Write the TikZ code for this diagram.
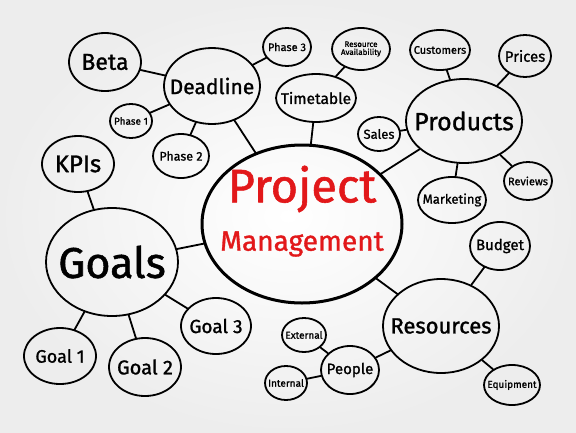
\documentclass[tikz,border=0pt]{standalone}
\usepackage{fontspec}
\setmainfont{Fira Sans}[FakeBold=1.2]
\usetikzlibrary{shapes.geometric}

\definecolor{pmred}{RGB}{226,24,26}
\newcommand{\fsz}[1]{\fontsize{#1}{#1}\selectfont}

\begin{document}
\begin{tikzpicture}[
  x=1pt, y=-1pt,
  line cap=round,
  line join=round,
  bubble/.style={ellipse, draw, line width=1.8pt, inner sep=0pt},
  link/.style={line width=1.8pt}
]

% background: light grey, white towards the middle
\shade [inner color=white, outer color=gray!14] (0,0) rectangle (576,432);
\useasboundingbox (0,0) rectangle (576,432);

% main topic (texts as labels so that they do not stretch the ellipse)
\node[bubble, line width=3pt, minimum width=200, minimum height=158,
  label={[text=pmred, font=\fsz{47}, yshift=35pt]center:Project},
  label={[text=pmred, font=\fsz{28}, yshift=-20pt]center:Management}] (pm) at (302,224) {};

% deadline branch
\node[bubble, minimum width=96, minimum height=76, label={[font=\fsz{21}]center:Deadline}] (deadline) at (212,86) {};
\node[bubble, minimum width=72, minimum height=58, label={[font=\fsz{23}]center:Beta}] (beta) at (105,62) {};
\node[bubble, minimum width=42, minimum height=34, label={[font=\fsz{10}]center:Phase 1}] (phase1) at (131,121) {};
\node[bubble, minimum width=56, minimum height=44, label={[font=\fsz{12.5}]center:Phase 2}] (phase2) at (181,156) {};
\node[bubble, minimum width=48, minimum height=38, label={[font=\fsz{11}]center:Phase 3}] (phase3) at (287,47) {};

% timetable branch
\node[bubble, minimum width=80, minimum height=48, label={[font=\fsz{15.5}]center:Timetable}] (timetable) at (316,98) {};
\node[bubble, minimum width=58, minimum height=42,
  label={[font=\fsz{8}, align=center]center:{Resource\\Availability}}] (avail) at (361,49) {};

% products branch
\node[bubble, minimum width=116, minimum height=84, label={[font=\fsz{25}]center:Products}] (products) at (464,121) {};
\node[bubble, minimum width=60, minimum height=40, label={[font=\fsz{11}]center:Customers}] (customers) at (440,50) {};
\node[bubble, minimum width=52, minimum height=42, label={[font=\fsz{15}]center:Prices}] (prices) at (525,56) {};
\node[bubble, minimum width=42, minimum height=34, label={[font=\fsz{13}]center:Sales}] (sales) at (379,134) {};
\node[bubble, minimum width=48, minimum height=38, label={[font=\fsz{11}]center:Reviews}] (reviews) at (528,181) {};
\node[bubble, minimum width=68, minimum height=46, label={[font=\fsz{13}]center:Marketing}] (marketing) at (452,200) {};

% goals branch
\node[bubble, minimum width=132, minimum height=108, label={[font=\fsz{43}]center:Goals}] (goals) at (112,262) {};
\node[bubble, minimum width=72, minimum height=56, label={[font=\fsz{24}]center:KPIs}] (kpis) at (78,164) {};
\node[bubble, minimum width=72, minimum height=56, label={[font=\fsz{18}]center:Goal 1}] (goal1) at (60,356) {};
\node[bubble, minimum width=72, minimum height=58, label={[font=\fsz{20}]center:Goal 2}] (goal2) at (145,367) {};
\node[bubble, minimum width=70, minimum height=56, label={[font=\fsz{19}]center:Goal 3}] (goal3) at (216,326) {};

% resources branch
\node[bubble, minimum width=116, minimum height=94, label={[font=\fsz{22}]center:Resources}] (resources) at (441,326) {};
\node[bubble, minimum width=60, minimum height=48, label={[font=\fsz{15}]center:Budget}] (budget) at (500,246) {};
\node[bubble, minimum width=56, minimum height=40, label={[font=\fsz{10}]center:Equipment}] (equipment) at (512,385) {};
\node[bubble, minimum width=58, minimum height=48, label={[font=\fsz{15}]center:People}] (people) at (350,370) {};
\node[bubble, minimum width=44, minimum height=34, label={[font=\fsz{10}]center:External}] (external) at (304,335) {};
\node[bubble, minimum width=42, minimum height=34, label={[font=\fsz{10}]center:Internal}] (internal) at (286,383) {};

% connectors
\draw[link] (beta) -- (deadline);
\draw[link] (deadline) -- (phase1);
\draw[link] (deadline) -- (phase2);
\draw[link] (deadline) -- (phase3);
\draw[link] (deadline) -- (pm);
\draw[link] (timetable) -- (avail);
\draw[link] (timetable) -- (pm);
\draw[link] (pm) -- (products);
\draw[link] (products) -- (customers);
\draw[link] (products) -- (prices);
\draw[link] (products) -- (sales);
\draw[link] (products) -- (reviews);
\draw[link] (products) -- (marketing);
\draw[link] (kpis) -- (goals);
\draw[link] (goals) -- (pm);
\draw[link] (goals) -- (goal1);
\draw[link] (goals) -- (goal2);
\draw[link] (goals) -- (goal3);
\draw[link] (pm) -- (resources);
\draw[link] (resources) -- (budget);
\draw[link] (resources) -- (equipment);
\draw[link] (resources) -- (people);
\draw[link] (people) -- (external);
\draw[link] (people) -- (internal);

\end{tikzpicture}
\end{document}
